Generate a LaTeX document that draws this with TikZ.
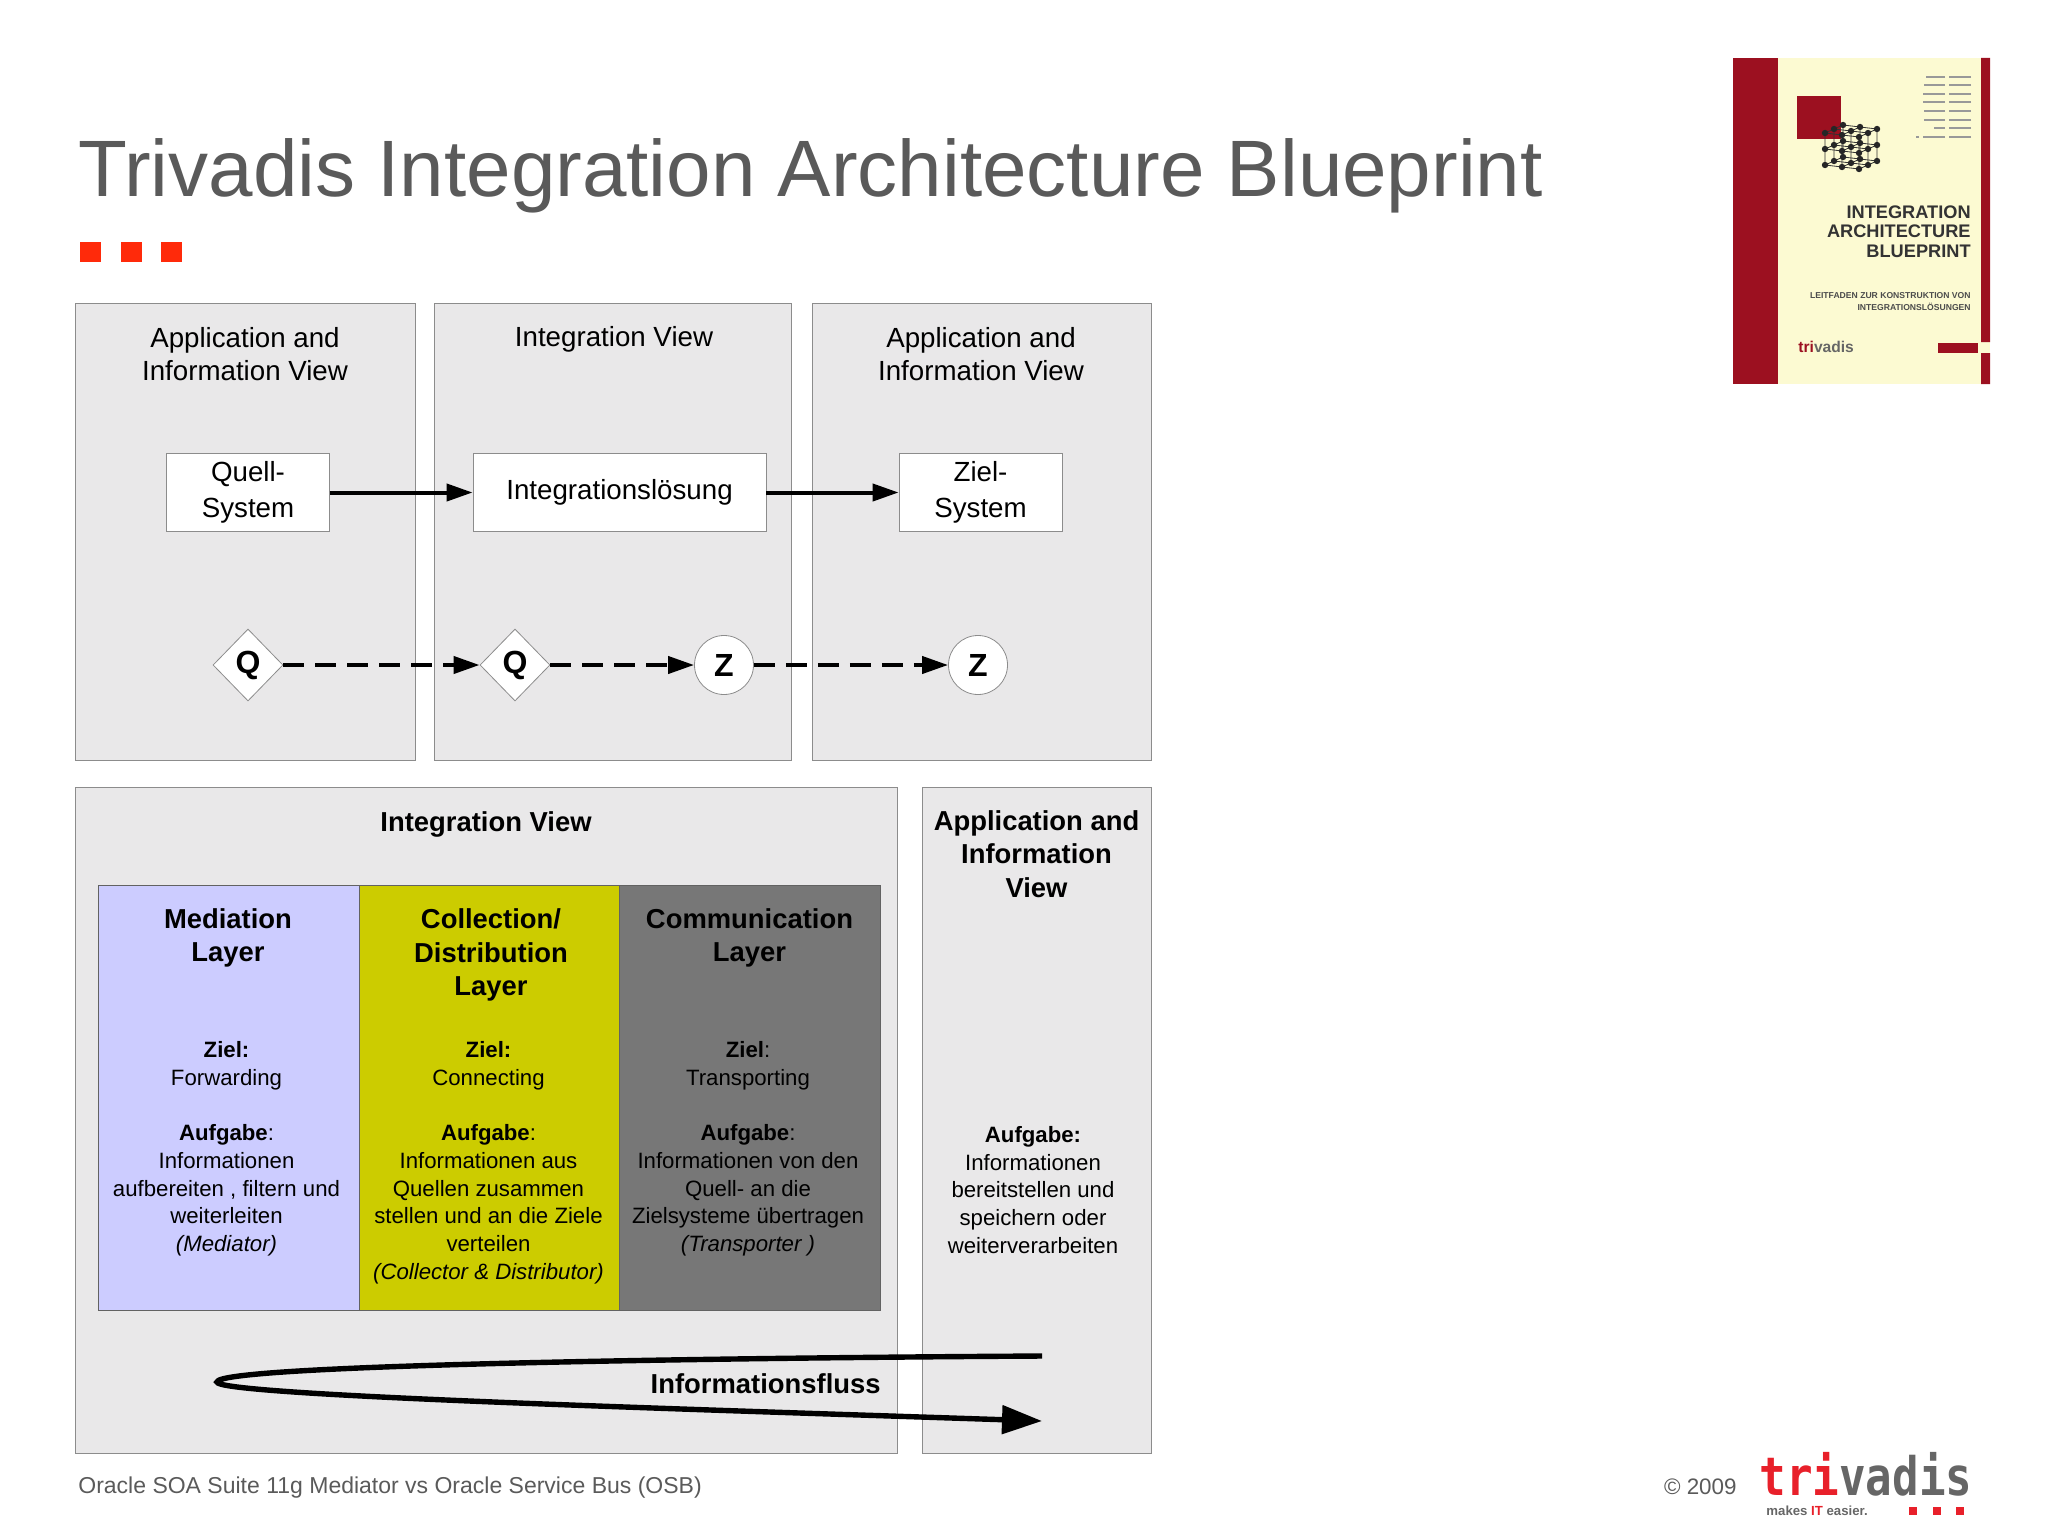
\documentclass[tikz,border=0pt]{standalone}
\usepackage{fontspec}
\setmainfont{Liberation Sans}
\usetikzlibrary{arrows.meta,shapes.geometric}

\definecolor{panelgray}{HTML}{E9E8E9}
\definecolor{panelline}{HTML}{8C8C8C}
\definecolor{titlegray}{HTML}{5A5A5A}
\definecolor{slidered}{HTML}{FF2A0A}
\definecolor{medblue}{HTML}{CCCCFF}
\definecolor{colyellow}{HTML}{CCCC00}
\definecolor{comgray}{HTML}{777777}
\definecolor{bookred}{HTML}{9C1020}
\definecolor{bookcream}{HTML}{FCFAD2}
\definecolor{logored}{HTML}{E8202A}

\newcommand{\viewtxt}{\fontsize{13.85}{16.25}\selectfont}
\newcommand{\headtxt}{\fontsize{13.7}{16.6}\selectfont\bfseries}
\newcommand{\bodytxt}{\fontsize{11.1}{13.85}\selectfont}
\newcommand{\cubept}[3]{({1825+#1*17+#3*9},{165+#1*2-#2*16-#3*4})}

\begin{document}
\begin{tikzpicture}
  [x=.5pt,y=-.5pt,every node/.style={inner sep=0pt,align=center,text=black},
   panel/.style={fill=panelgray,draw=panelline,line width=.4pt},
   sysbox/.style={rectangle,fill=white,draw=panelline,line width=.4pt,minimum height=39pt,font=\viewtxt},
   qmark/.style={diamond,aspect=1,fill=white,draw=panelline,line width=.4pt,minimum width=35pt,minimum height=36pt,font=\fontsize{16}{18}\selectfont\bfseries},
   zmark/.style={circle,fill=white,draw=panelline,line width=.4pt,minimum size=29.5pt,font=\fontsize{16}{18}\selectfont\bfseries},
   flow/.style={line width=2pt,-{Triangle[length=13pt,width=8.5pt]}},
   dashflow/.style={flow,dash pattern=on 10.5pt off 5.5pt},
   view/.style={font=\viewtxt},
   head/.style={font=\headtxt},
   body/.style={anchor=north,font=\bodytxt}]
  \useasboundingbox (0,0) rectangle (2048,1536);

  % title and footer
  \node[anchor=base west,font=\fontsize{40}{44}\selectfont,text=titlegray] (title) at (78,196) {Trivadis Integration Architecture Blueprint};
  \foreach \x in {80,121,161}
    \fill[slidered] (\x,242) rectangle +(20.5,20);
  \node[anchor=base west,font=\fontsize{11.5}{13}\selectfont,text=titlegray] (footer) at (78,1493) {Oracle SOA Suite 11g Mediator vs Oracle Service Bus (OSB)};
  \node[anchor=east,font=\fontsize{11.2}{13}\selectfont,text=titlegray] (copy) at (1737,1487) {© 2009};

  % upper panels
  \draw[panel] (75,303) rectangle (415,760);
  \draw[panel] (434,303) rectangle (791,760);
  \draw[panel] (812,303) rectangle (1151,760);
  \node[view] (appl) at (245,354) {Application and\\Information View};
  \node[view] (intv) at (614,339) {Integration View};
  \node[view] (appr) at (981,354) {Application and\\Information View};

  \node[sysbox,minimum width=81.5pt] (quell) at (248,492.5) {Quell-\\[1.5pt]System};
  \node[sysbox,minimum width=146.5pt] (integ) at (619.5,492.5) {Integrationslösung};
  \node[sysbox,minimum width=81.5pt] (ziel) at (980.5,492.5) {Ziel-\\[1.5pt]System};

  \node[qmark] (q1) at (248,665) {Q};
  \node[qmark] (q2) at (515,665) {Q};
  \node[zmark] (z1) at (724,665) {Z};
  \node[zmark] (z2) at (978,665) {Z};

  \foreach \from/\to in {quell/integ,integ/ziel}
    \draw[flow] (\from) -- (\to);
  \foreach \from/\to in {q1/q2,q2/z1,z1/z2}
    \draw[dashflow] (\from) -- (\to);

  % lower panels
  \draw[panel] (75,787) rectangle (897,1453);
  \draw[panel] (922,787) rectangle (1151,1453);
  \node[head] (intb) at (486,824) {Integration View};
  \node[head] (appb) at (1036.5,854) {Application and\\Information\\View};

  \fill[medblue] (98,885) rectangle (359,1310);
  \fill[colyellow] (359,885) rectangle (619,1310);
  \fill[comgray] (619,885) rectangle (880,1310);
  \draw[panelline!70!black,line width=.4pt] (98,885) rectangle (880,1310) (359,885) -- (359,1310) (619,885) -- (619,1310);

  \node[head] (medh) at (228,938) {Mediation\\Layer};
  \node[head] (colh) at (491,955) {Collection/\\Distribution\\Layer};
  \node[head] (comh) at (749.5,938) {Communication\\Layer};

  \node[body] (medb) at (226.5,1041) {\textbf{Ziel:}\\Forwarding\\ \\\textbf{Aufgabe}:\\Informationen\\aufbereiten , filtern und\\weiterleiten\\\textit{(Mediator)}};
  \node[body] (colb) at (488.5,1041) {\textbf{Ziel:}\\Connecting\\ \\\textbf{Aufgabe}:\\Informationen  aus\\Quellen zusammen\\stellen und an die Ziele\\verteilen\\\textit{(Collector \& Distributor)}};
  \node[body] (comb) at (748,1041) {\textbf{Ziel}:\\Transporting\\ \\\textbf{Aufgabe}:\\Informationen von den\\Quell- an die\\Zielsysteme übertragen\\\textit{(Transporter )}};
  \node[body] (appt) at (1033,1126) {\textbf{Aufgabe:}\\Informationen\\bereitstellen und\\speichern oder\\weiterverarbeiten};

  % information flow
  \coordinate (flowstart) at (1042,1356);
  \coordinate (flowturn) at (217,1382);
  \coordinate (flowend) at (1042,1421);
  \draw[line width=2.7pt,-{Triangle[length=20pt,width=14pt]}] (flowstart) .. controls (700,1358) and (217,1365) .. (flowturn) .. controls (217,1395) and (650,1408) .. (flowend);
  \node[head,anchor=east] (flowtxt) at (881,1384) {Informationsfluss};

  % book cover
  \fill[bookcream] (1738,58) rectangle (1990,384);
  \fill[bookred] (1738,58) rectangle (1778,384);
  \fill[bookred] (1981,58) rectangle (1990,342) (1981,353) rectangle (1990,384);
  \fill[bookred] (1797,96) rectangle (1841,139);
  \fill[bookred] (1938,343) rectangle (1978,353);
  \fill[bookred] (1733,58) rectangle (1738,384);
  \foreach \a in {0,1,2}
    \foreach \b in {0,1,2}
      \draw[black!80,line width=.4pt] \cubept{0}{\a}{\b} -- \cubept{2}{\a}{\b} \cubept{\a}{0}{\b} -- \cubept{\a}{2}{\b} \cubept{\a}{\b}{0} -- \cubept{\a}{\b}{2};
  \foreach \i in {0,1,2}
    \foreach \j in {0,1,2}
      \foreach \k in {0,1,2}
        \fill[black!85] \cubept{\i}{\j}{\k} circle (1.6pt);
  \foreach \y/\w in {77/45,85.5/47,94/50,102.5/48,111/47,119.5/47,128/37,137/55}
    \draw[black!40,line width=1pt,dash pattern=on 11pt off 2pt] (1971,\y) -- (1971-\w,\y);
  \node[anchor=east,font=\fontsize{9.1}{10}\selectfont\bfseries,text=black!80] (bookt1) at (1971,212) {INTEGRATION};
  \node[anchor=east,font=\fontsize{9.1}{10}\selectfont\bfseries,text=black!80] (bookt2) at (1971,231) {ARCHITECTURE};
  \node[anchor=east,font=\fontsize{9.1}{10}\selectfont\bfseries,text=black!80] (bookt3) at (1971,251) {BLUEPRINT};
  \node[anchor=east,font=\fontsize{4.3}{5}\selectfont\bfseries,text=black!70] (books1) at (1971,296) {LEITFADEN ZUR KONSTRUKTION VON};
  \node[anchor=east,font=\fontsize{4.3}{5}\selectfont\bfseries,text=black!70] (books2) at (1971,307) {INTEGRATIONSLÖSUNGEN};
  \node[anchor=west,font=\fontsize{7.8}{9}\selectfont\bfseries,text=black!60] (bookl) at (1798,347) {\textcolor{bookred}{tri}vadis};

  % logo
  \node[anchor=west,yscale=1.2,transform shape,font=\fontsize{22.1}{24}\selectfont\bfseries\fontspec{DejaVu Sans Mono},text=black!60] (logo) at (1759,1474) {\textcolor{logored}{tri}vadis};
  \node[anchor=west,font=\fontsize{6.6}{8}\selectfont\bfseries,text=black!60] (claim) at (1766,1511) {makes \textcolor{logored}{IT} easier.};
  \foreach \x in {1913,1937,1960}
    \fill[logored] (\x-4,1507) rectangle +(8,8);
\end{tikzpicture}
\end{document}
